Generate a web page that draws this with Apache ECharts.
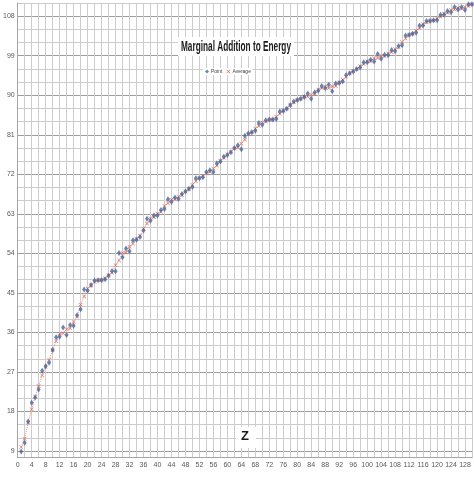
<!DOCTYPE html>
<html><head><meta charset="utf-8">
<script src="https://cdn.jsdelivr.net/npm/echarts@6/dist/echarts.min.js"></script>
<style>html,body{margin:0;padding:0;background:#fff}#c{width:474px;height:482px}</style>
</head><body><div id="c"></div>
<script>
// Z = 1..130
var points = [8.9,10.9,15.7,20.0,21.2,23.0,27.3,28.3,29.1,32.0,
34.9,35.0,37.1,35.4,37.7,37.5,39.9,41.3,45.8,45.5,
46.8,47.8,47.9,47.9,48.1,48.9,50.0,49.9,54.1,53.1,
55.1,54.5,57.0,57.1,57.7,59.2,61.9,61.4,62.6,62.6,
63.9,64.1,66.3,65.7,66.7,66.4,67.5,68.1,68.7,69.1,
71.1,71.1,71.3,72.5,72.9,72.5,74.5,74.9,76.0,76.4,
77.0,78.0,78.6,77.7,80.8,81.3,81.6,81.9,83.7,83.3,
84.3,84.5,84.5,84.6,86.3,86.4,86.9,87.8,88.6,88.9,
89.2,89.6,90.4,89.2,90.7,91.0,92.1,91.6,92.4,90.9,
92.7,92.8,93.1,94.6,95.0,95.4,96.0,96.3,97.5,97.5,
98.1,97.7,99.4,98.3,99.2,99.1,100.3,100.0,101.2,101.4,
103.6,103.7,104.0,104.2,105.9,105.9,106.9,106.9,107.1,107.1,
108.3,108.3,109.2,108.9,110.1,109.5,110.1,109.4,110.7,110.7];
var averages = [9.9,11.8,15.5,18.5,21.4,23.8,26.2,28.2,29.8,32.0,
34.0,35.7,35.8,36.7,36.9,38.4,39.6,42.3,44.2,46.0,
46.7,47.5,47.9,48.0,48.3,49.0,49.6,51.3,52.4,54.1,
54.2,55.5,56.2,57.3,58.0,59.6,60.8,62.0,62.2,63.0,
63.5,64.8,65.4,66.2,66.3,66.9,67.3,68.1,68.6,69.6,
70.4,71.2,71.6,72.2,72.6,73.3,74.0,75.1,75.8,76.5,
77.1,77.9,78.1,79.0,79.9,81.2,81.6,82.4,83.0,83.8,
84.0,84.4,84.5,85.1,85.8,86.5,87.0,87.8,88.4,88.9,
89.2,89.7,89.7,90.1,90.3,91.3,91.6,92.0,91.6,92.0,
92.1,92.9,93.5,94.2,95.0,95.5,95.9,96.6,97.1,97.7,
97.8,98.4,98.5,99.0,98.9,99.5,99.8,100.5,100.9,102.1,
102.9,103.8,104.0,104.7,105.3,106.2,106.6,107.0,107.0,107.5,
107.9,108.6,108.8,109.4,109.5,109.9,109.7,110.1,110.3,110.7];
var xTickStep = 4;   // labelled every 4
var yLabelStep = 9;  // labelled every 9
var titleText = 'Marginal Addition to Energy';
var xName = 'Z';
var seriesNames = ['Point','Average'];

var ptData = points.map(function(v,i){return [i+1,v];});
var avData = averages.map(function(v,i){return [i+1,v];});
var xSym = 'path://M0,1L1,0L5,4L9,0L10,1L6,5L10,9L9,10L5,6L1,10L0,9L4,5Z';

var chart = echarts.init(document.getElementById('c'), null, {renderer:'canvas'});
chart.setOption({
  animation:false,
  backgroundColor:'#fff',
  grid:{left:13,right:2,top:3,bottom:24.4,containLabel:false},
  xAxis:{type:'value',min:0,max:130,interval:2,
    axisLine:{show:true,lineStyle:{color:'#a6a6a6',width:1}},
    axisTick:{show:false},
    axisLabel:{fontSize:7,color:'#595959',margin:4,fontFamily:'Liberation Sans Narrow, Liberation Sans, sans-serif',
      showMaxLabel:false,
      formatter:function(v){return v%xTickStep===0?String(v):'';}},
    splitLine:{show:true,lineStyle:{color:'#cccccc',width:1}}
  },
  yAxis:{type:'value',min:7.5,max:111,interval:1.5,
    axisLine:{show:true,lineStyle:{color:'#a6a6a6',width:1}},
    axisTick:{show:false},
    axisLabel:{fontSize:7,color:'#595959',margin:3,fontFamily:'Liberation Sans Narrow, Liberation Sans, sans-serif',
      formatter:function(v){return (Math.abs(v%yLabelStep)<1e-6)?String(v):'';}},
    splitLine:{show:true,lineStyle:{width:1,color:['rgba(0,0,0,0)','#9c9c9c','rgba(0,0,0,0)','#cccccc','rgba(0,0,0,0)','#cccccc']}}
  },
  legend:{left:203,top:68,itemWidth:4,itemHeight:4,itemGap:4,padding:[1,2],backgroundColor:'#fff',
    textStyle:{fontSize:5,color:'#404040',padding:[0,0,0,-3],fontFamily:'Liberation Sans Narrow, Liberation Sans, sans-serif'},
    data:[{name:seriesNames[0],icon:'diamond'},{name:seriesNames[1],icon:xSym}]},
  series:[
    {name:seriesNames[1],type:'line',data:avData,symbol:xSym,symbolSize:4,showSymbol:true,
      lineStyle:{color:'#e8958a',width:1,type:'dotted'},itemStyle:{color:'#e06a5a'},z:2},
    {name:seriesNames[0],type:'scatter',data:ptData,symbol:'diamond',symbolSize:[4,6],
      itemStyle:{color:'#45659a'},z:3}
  ],
  graphic:[
    {type:'rect',left:178,top:37,shape:{width:116,height:19},style:{fill:'#fff'},z:10},
    {type:'text',x:236,y:39,z:11,scaleX:0.55,
      style:{text:titleText,font:'bold 15px "Liberation Sans", sans-serif',fill:'#1a1a1a',textAlign:'center'}},
    {type:'rect',left:236,top:427,shape:{width:20,height:21},style:{fill:'#fff'},z:10},
    {type:'text',left:241,top:430,z:11,style:{text:xName,font:'bold 13px "Liberation Sans", sans-serif',fill:'#1a1a1a'}}
  ]
});
</script></body></html>
